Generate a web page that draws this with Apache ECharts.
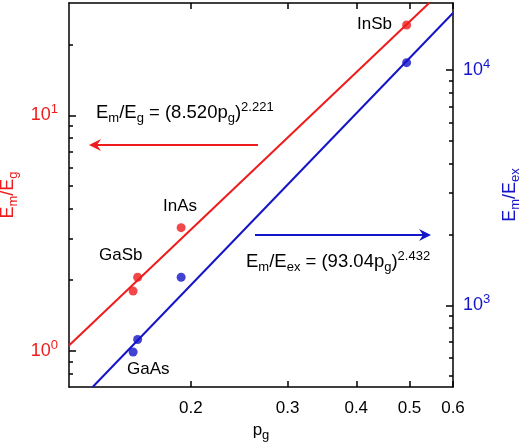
<!DOCTYPE html>
<html lang="en">
<head>
    <meta charset="UTF-8">
    <script src="https://cdn.jsdelivr.net/npm/echarts@6/dist/echarts.min.js"></script>
    <title>Em/Eg vs pg</title>
    <style>
        html, body { margin: 0; padding: 0; background: #fff; }
        #chart { width: 520px; height: 445px; }
    </style>
</head>
<body>
<div id="chart"></div>
<script>
    // measured points (GaAs, GaSb, InAs, InSb)
    const materials = ['GaAs', 'GaSb', 'InAs', 'InSb'];
    const pg = [0.157, 0.160, 0.192, 0.494];
    const emEg = [1.79, 2.05, 3.33, 24.2];
    const emEex = [634, 716, 1317, 10760];

    // fitted lines, end points
    const fitEgX = [0.12, 0.543];
    const fitEgY = [1.05, 30];
    const fitExX = [0.1325, 0.6];
    const fitExY = [450, 17500];

    // tick values
    const xTicks = [0.2, 0.3, 0.4, 0.5, 0.6];
    const leftMajor = [1, 10];
    const leftMinor = [0.8, 0.9, 2, 3, 4, 5, 6, 7, 8, 9, 20];
    const rightMajor = [1000, 10000];
    const rightMinor = [500, 600, 700, 800, 900, 2000, 3000, 4000, 5000, 6000, 7000, 8000, 9000];

    const RED = '#ee1c1c';
    const BLUE = '#1414c8';
    const FONT = 'Liberation Sans, Arial, sans-serif';

    const zip = (xs, ys) => xs.map((x, i) => [x, ys[i]]);

    const chart = echarts.init(document.getElementById('chart'));

    const richText = (color, size) => ({
        b: { fontSize: size, lineHeight: 24, color: color, fontFamily: FONT },
        s: { fontSize: 13, lineHeight: 12, color: color, fontFamily: FONT, verticalAlign: 'bottom' },
        u: { fontSize: 13, lineHeight: 12, color: color, fontFamily: FONT, verticalAlign: 'top' }
    });

    const powLabel = v => '{b|10}{u|' + Math.round(Math.log10(v)) + '}';

    const lineStyle = { color: '#000', width: 1.5 };

    const option = {
        animation: false,
        backgroundColor: '#fff',
        grid: { left: 69, right: 67, top: 3, bottom: 58, outerBoundsMode: 'none' },
        xAxis: [{
            type: 'log',
            position: 'bottom',
            min: 0.12,
            max: 0.6,
            axisLine: { lineStyle: lineStyle },
            axisTick: { inside: true, length: 6, customValues: xTicks, lineStyle: lineStyle },
            axisLabel: { customValues: xTicks, color: '#000', fontSize: 17, fontFamily: FONT, margin: 13 },
            splitLine: { show: false },
            name: '{b|p}{s|g}',
            nameLocation: 'middle',
            nameGap: 31,
            nameTextStyle: { rich: richText('#000', 17) }
        }, {
            type: 'log',
            position: 'top',
            min: 0.12,
            max: 0.6,
            axisLine: { lineStyle: lineStyle },
            axisTick: { inside: true, length: 6, customValues: xTicks, lineStyle: lineStyle },
            axisLabel: { show: false },
            splitLine: { show: false }
        }],
        yAxis: [{
            type: 'log',
            position: 'left',
            min: 0.7,
            max: 30,
            axisLine: { lineStyle: lineStyle },
            axisTick: { inside: true, length: 7, customValues: leftMajor, lineStyle: lineStyle },
            axisLabel: {
                customValues: leftMajor, margin: 11, formatter: powLabel,
                rich: richText(RED, 18)
            },
            splitLine: { show: false },
            name: '{b|E}{s|m}{b|/E}{s|g}',
            nameLocation: 'middle',
            nameGap: 38,
            nameTextStyle: { rich: richText(RED, 18) }
        }, {
            type: 'log',
            position: 'left',
            min: 0.7,
            max: 30,
            axisLine: { show: false },
            axisTick: { inside: true, length: 4, customValues: leftMinor, lineStyle: lineStyle },
            axisLabel: { show: false },
            splitLine: { show: false }
        }, {
            type: 'log',
            position: 'right',
            min: 450,
            max: 19300,
            axisLine: { lineStyle: lineStyle },
            axisTick: { inside: true, length: 7, customValues: rightMajor, lineStyle: lineStyle },
            axisLabel: {
                customValues: rightMajor, margin: 10, formatter: powLabel,
                rich: richText(BLUE, 18)
            },
            splitLine: { show: false },
            name: '{b|E}{s|m}{b|/E}{s|ex}',
            nameLocation: 'middle',
            nameGap: 44,
            nameTextStyle: { rich: richText(BLUE, 18) }
        }, {
            type: 'log',
            position: 'right',
            min: 450,
            max: 19300,
            axisLine: { show: false },
            axisTick: { inside: true, length: 4, customValues: rightMinor, lineStyle: lineStyle },
            axisLabel: { show: false },
            splitLine: { show: false }
        }],
        series: [{
            name: 'Em/Eg fit',
            type: 'line',
            yAxisIndex: 0,
            data: zip(fitEgX, fitEgY),
            showSymbol: false,
            lineStyle: { color: RED, width: 2 }
        }, {
            name: 'Em/Eex fit',
            type: 'line',
            yAxisIndex: 2,
            data: zip(fitExX, fitExY),
            showSymbol: false,
            lineStyle: { color: BLUE, width: 2 }
        }, {
            name: 'Em/Eg',
            type: 'scatter',
            yAxisIndex: 0,
            data: zip(pg, emEg),
            symbolSize: 9,
            itemStyle: { color: RED }
        }, {
            name: 'Em/Eex',
            type: 'scatter',
            yAxisIndex: 2,
            data: zip(pg, emEex),
            symbolSize: 9,
            itemStyle: { color: BLUE }
        }],
        graphic: [
            // material labels
            { type: 'text', left: 357, top: 16, style: { text: materials[3], fontSize: 17, fontFamily: FONT, fill: '#000' } },
            { type: 'text', left: 163, top: 198, style: { text: materials[2], fontSize: 17, fontFamily: FONT, fill: '#000' } },
            { type: 'text', left: 99, top: 247, style: { text: materials[1], fontSize: 17, fontFamily: FONT, fill: '#000' } },
            { type: 'text', left: 127, top: 361, style: { text: materials[0], fontSize: 17, fontFamily: FONT, fill: '#000' } },
            // equations
            {
                type: 'text', left: 96, top: 101,
                style: { text: '{b|E}{s|m}{b|/E}{s|g}{b| = (8.520p}{s|g}{b|)}{u|2.221}', rich: richText(RED, 18.5) }
            },
            {
                type: 'text', left: 246, top: 250,
                style: { text: '{b|E}{s|m}{b|/E}{s|ex}{b| = (93.04p}{s|g}{b|)}{u|2.432}', rich: richText(BLUE, 18.5) }
            },
            // arrows
            { type: 'line', shape: { x1: 258, y1: 145, x2: 96, y2: 145 }, style: { stroke: RED, lineWidth: 2 } },
            { type: 'polygon', shape: { points: [[89, 145], [101, 139], [97, 145], [101, 151]] }, style: { fill: RED } },
            { type: 'line', shape: { x1: 255, y1: 235, x2: 424, y2: 235 }, style: { stroke: BLUE, lineWidth: 2 } },
            { type: 'polygon', shape: { points: [[431, 235], [419, 229], [423, 235], [419, 241]] }, style: { fill: BLUE } }
        ]
    };

    chart.setOption(option);
</script>
</body>
</html>
